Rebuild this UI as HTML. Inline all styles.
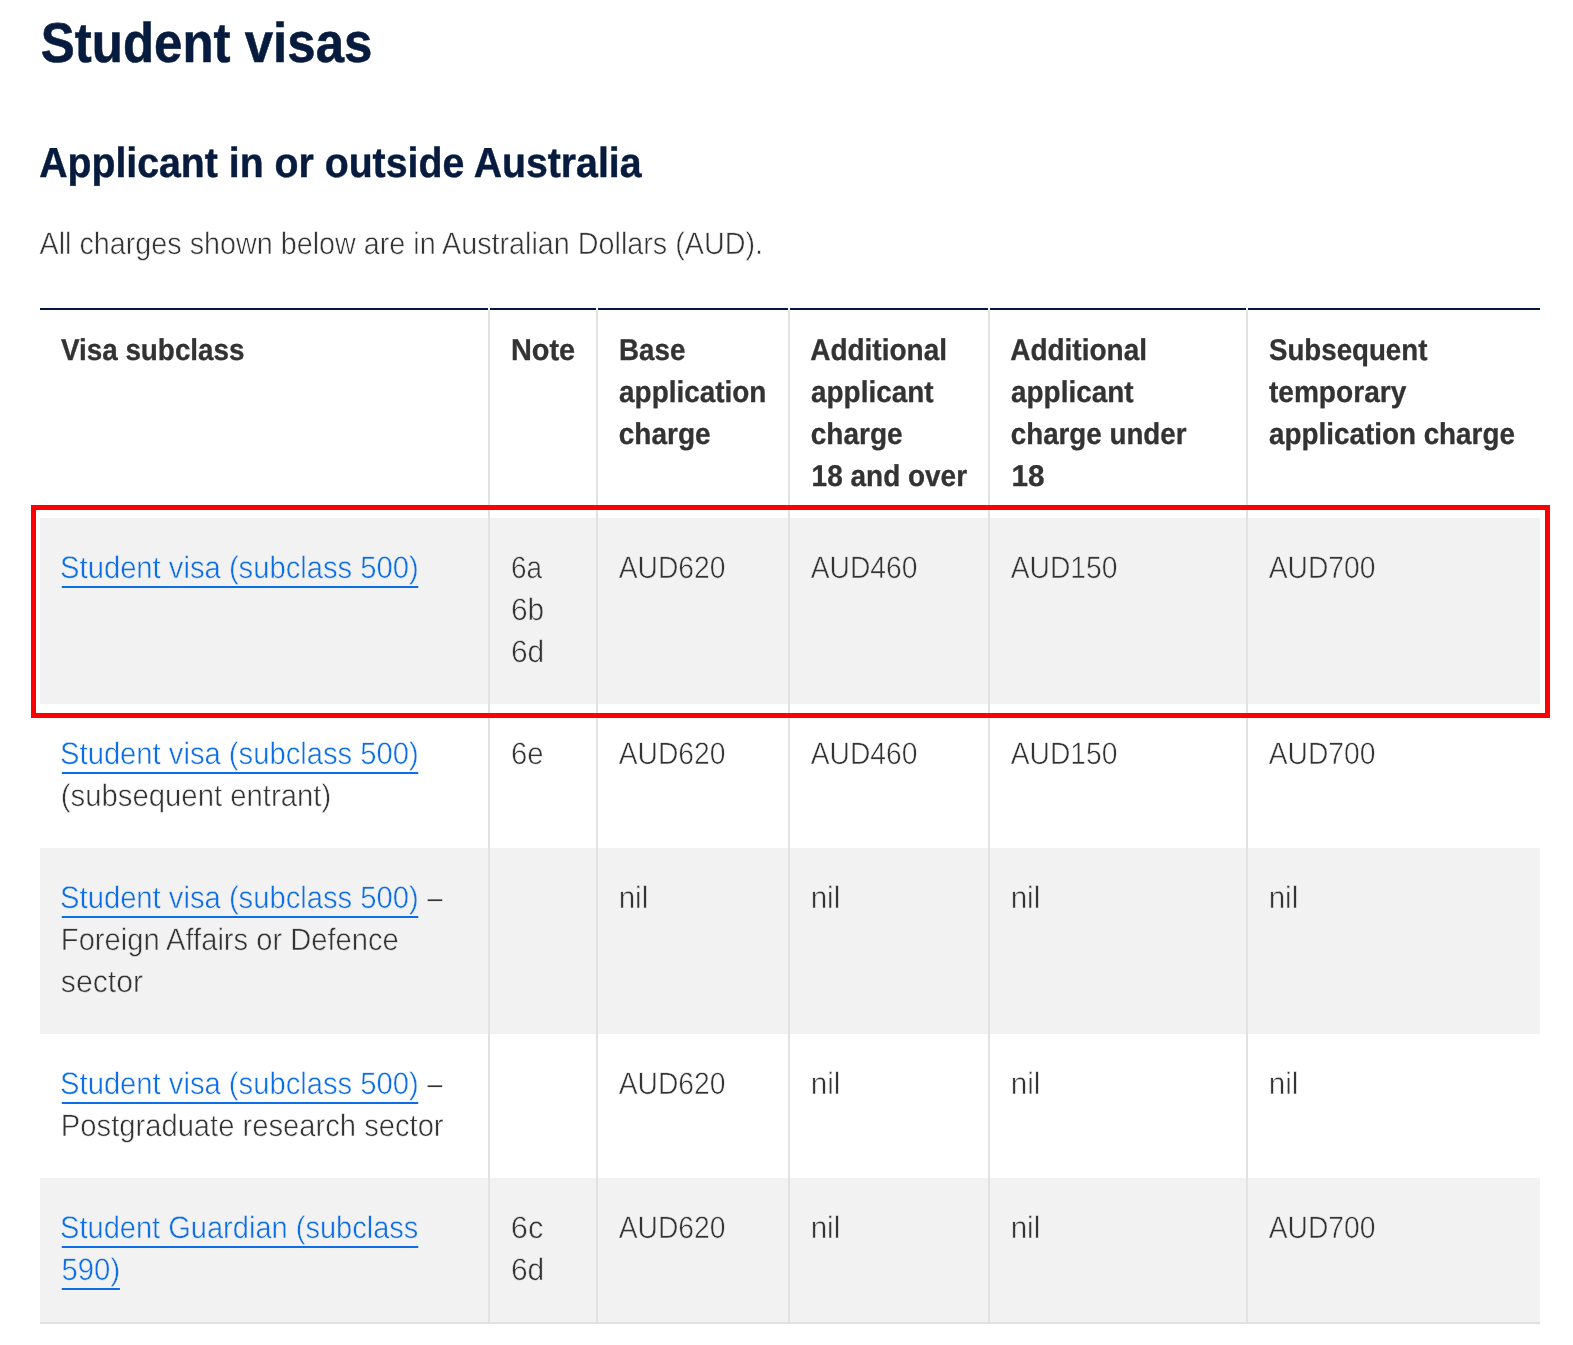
<!DOCTYPE html>
<html><head><meta charset="utf-8"><title>Student visas</title>
<style>
*{box-sizing:border-box;margin:0;padding:0}
html,body{width:1573px;height:1345px;background:#fff;overflow:hidden}
body{position:relative;text-rendering:geometricPrecision;font-family:"Liberation Sans", sans-serif;font-weight:400;font-size:30px;line-height:42px;color:#333}
h1{position:absolute;left:40px;top:7.5px;font-size:56px;line-height:70px;font-weight:700;color:#061b3d;white-space:nowrap}
h2{position:absolute;left:40px;top:137px;font-size:42px;line-height:52px;font-weight:700;color:#061b3d;white-space:nowrap}
p.intro{position:absolute;left:40px;top:223px;white-space:nowrap}
table{position:absolute;left:40px;top:308px;width:1500px;border-collapse:separate;border-spacing:0;table-layout:fixed;border-bottom:2px solid #e2e2e2}
th,td{vertical-align:top;text-align:left;border-right:2px solid #e2e2e2;padding:29px 0 0 21px;white-space:nowrap}
th:last-child,td:last-child{border-right:0}
th{font-weight:700;border-top:2px solid #04173e;position:relative;padding-top:20px;height:210px}
th::after{content:'';position:absolute;right:-2px;top:-2px;width:2px;height:2px;background:#fff}
th:last-child::after{display:none}
h1,h2,th{-webkit-text-stroke:0.01em currentColor}
tr.g td{background:#f2f2f2;-webkit-text-stroke:0.55px #f2f2f2}
td,p.intro{-webkit-text-stroke:0.55px #fff;font-size:31px}
tr.r3 td{height:186px} tr.r2 td{height:144px}
.t{display:inline-block;transform-origin:0 50%;white-space:pre}
.a{-webkit-text-stroke-width:0.5px;color:#0b6ee6;border-bottom:2px solid #0b6ee6;line-height:37px}
.red{position:absolute;left:31px;top:505px;width:1519px;height:213px;border:5px solid #f00}
#w{position:absolute;left:0;top:0;width:1573px;height:1345px;will-change:transform}
</style></head><body><div id="w">
<h1><span id="h1" class="t" style="transform:translateX(0.79px) scaleX(0.9106)">Student visas</span></h1>
<h2><span id="h2" class="t" style="transform:translateX(-0.87px) scaleX(0.9342)">Applicant in or outside Australia</span></h2>
<p class="intro"><span id="intro" class="t" style="transform:translateX(-0.51px) scaleX(0.9270)">All charges shown below are in Australian Dollars (AUD).</span></p>
<table>
<colgroup><col style="width:450px"><col style="width:108px"><col style="width:192px"><col style="width:200px"><col style="width:258px"><col style="width:292px"></colgroup>
<tr><th><span id="visa" class="t" style="transform:translateX(-0.12px) scaleX(0.9280)">Visa subclass</span></th><th><span id="note" class="t" style="transform:translateX(-0.09px) scaleX(0.9634)">Note</span></th><th><span id="base" class="t" style="transform:translateX(-0.02px) scaleX(0.9253)">Base</span><br><span id="appl" class="t" style="transform:translateX(0.06px) scaleX(0.9306)">application</span><br><span id="chg" class="t" style="transform:translateX(-0.22px) scaleX(0.9337)">charge</span></th><th><span id="add1" class="t" style="transform:translateX(-0.79px) scaleX(0.9326)">Additional</span><br><span id="apc1" class="t" style="transform:translateX(0.06px) scaleX(0.9296)">applicant</span><br><span id="chg1" class="t" style="transform:translateX(-0.22px) scaleX(0.9337)">charge</span><br><span id="over" class="t" style="transform:translateX(0.62px) scaleX(0.9322)">18 and over</span></th><th><span id="add2" class="t" style="transform:translateX(-0.79px) scaleX(0.9326)">Additional</span><br><span id="apc2" class="t" style="transform:translateX(0.06px) scaleX(0.9296)">applicant</span><br><span id="chgu" class="t" style="transform:translateX(-0.21px) scaleX(0.9244)">charge under</span><br><span id="e18" class="t" style="transform:translateX(0.52px) scaleX(0.9906)">18</span></th><th><span id="subs" class="t" style="transform:translateX(0.00px) scaleX(0.9226)">Subsequent</span><br><span id="temp" class="t" style="transform:translateX(-0.10px) scaleX(0.9366)">temporary</span><br><span id="apch" class="t" style="transform:translateX(0.06px) scaleX(0.9274)">application charge</span></th></tr>
<tr class="g r3"><td><span id="link_1" class="t a" style="transform:translateX(0.80px) scaleX(0.9356)"><span id="link_1i" class="t" style="transform:translateX(-1.86px) scaleX(1.0068)">Student visa (subclass 500)</span></span></td><td><span id="n6a_2" class="t" style="transform:translateX(0.03px) scaleX(0.9010)">6a</span><br><span id="n6b_3" class="t" style="transform:translateX(-0.10px) scaleX(0.9672)">6b</span><br><span id="n6d_4" class="t" style="transform:translateX(-0.10px) scaleX(0.9678)">6d</span></td><td><span id="a620_5" class="t" style="transform:translateX(-0.29px) scaleX(0.9111)">AUD620</span></td><td><span id="a460_6" class="t" style="transform:translateX(-0.29px) scaleX(0.9111)">AUD460</span></td><td><span id="a150_7" class="t" style="transform:translateX(-0.29px) scaleX(0.9111)">AUD150</span></td><td><span id="a700_8" class="t" style="transform:translateX(-0.29px) scaleX(0.9111)">AUD700</span></td></tr>
<tr class="r2"><td><span id="link_9" class="t a" style="transform:translateX(0.80px) scaleX(0.9356)"><span id="link_9i" class="t" style="transform:translateX(-1.87px) scaleX(1.0068)">Student visa (subclass 500)</span></span><br><span id="subq_10" class="t" style="transform:translateX(-0.22px) scaleX(0.9453)">(subsequent entrant)</span></td><td><span id="n6e_11" class="t" style="transform:translateX(-0.05px) scaleX(0.9457)">6e</span></td><td><span id="a620_12" class="t" style="transform:translateX(-0.29px) scaleX(0.9111)">AUD620</span></td><td><span id="a460_13" class="t" style="transform:translateX(-0.29px) scaleX(0.9111)">AUD460</span></td><td><span id="a150_14" class="t" style="transform:translateX(-0.29px) scaleX(0.9111)">AUD150</span></td><td><span id="a700_15" class="t" style="transform:translateX(-0.29px) scaleX(0.9111)">AUD700</span></td></tr>
<tr class="g r3"><td><span id="link_16" class="t a" style="transform:translateX(0.80px) scaleX(0.9356)"><span id="link_16i" class="t" style="transform:translateX(-1.86px) scaleX(1.0068)">Student visa (subclass 500)</span></span><span id="dash_17" class="t" style="transform:translateX(-22.21px) scaleX(0.8789)"> –</span><br><span id="fore_18" class="t" style="transform:translateX(-0.14px) scaleX(0.9395)">Foreign Affairs or Defence</span><br><span id="sect_19" class="t" style="transform:translateX(-0.23px) scaleX(0.9753)">sector</span></td><td></td><td><span id="nil_20" class="t" style="transform:translateX(-0.37px) scaleX(0.9565)">nil</span></td><td><span id="nil_21" class="t" style="transform:translateX(-0.37px) scaleX(0.9565)">nil</span></td><td><span id="nil_22" class="t" style="transform:translateX(-0.37px) scaleX(0.9565)">nil</span></td><td><span id="nil_23" class="t" style="transform:translateX(-0.37px) scaleX(0.9565)">nil</span></td></tr>
<tr class="r2"><td><span id="link_24" class="t a" style="transform:translateX(0.80px) scaleX(0.9356)"><span id="link_24i" class="t" style="transform:translateX(-1.87px) scaleX(1.0068)">Student visa (subclass 500)</span></span><span id="dash_25" class="t" style="transform:translateX(-22.20px) scaleX(0.8783)"> –</span><br><span id="post_26" class="t" style="transform:translateX(-0.14px) scaleX(0.9411)">Postgraduate research sector</span></td><td></td><td><span id="a620_27" class="t" style="transform:translateX(-0.29px) scaleX(0.9111)">AUD620</span></td><td><span id="nil_28" class="t" style="transform:translateX(-0.37px) scaleX(0.9568)">nil</span></td><td><span id="nil_29" class="t" style="transform:translateX(-0.37px) scaleX(0.9568)">nil</span></td><td><span id="nil_30" class="t" style="transform:translateX(-0.37px) scaleX(0.9568)">nil</span></td></tr>
<tr class="g r2"><td><span id="guar_31" class="t a" style="transform:translateX(0.80px) scaleX(0.9308)"><span id="guar_31i" class="t" style="transform:translateX(-1.86px) scaleX(1.0063)">Student Guardian (subclass</span></span><br><span id="g590_32" class="t a" style="transform:translateX(0.80px) scaleX(0.9380)"><span id="g590_32i" class="t" style="transform:translateX(-0.35px) scaleX(1.0083)">590)</span></span></td><td><span id="n6c_33" class="t" style="transform:translateX(-0.15px) scaleX(0.9952)">6c</span><br><span id="n6d_34" class="t" style="transform:translateX(-0.10px) scaleX(0.9678)">6d</span></td><td><span id="a620_35" class="t" style="transform:translateX(-0.29px) scaleX(0.9111)">AUD620</span></td><td><span id="nil_36" class="t" style="transform:translateX(-0.37px) scaleX(0.9565)">nil</span></td><td><span id="nil_37" class="t" style="transform:translateX(-0.37px) scaleX(0.9565)">nil</span></td><td><span id="a700_38" class="t" style="transform:translateX(-0.29px) scaleX(0.9111)">AUD700</span></td></tr>
</table>
<div class="red"></div>
</div></body></html>
